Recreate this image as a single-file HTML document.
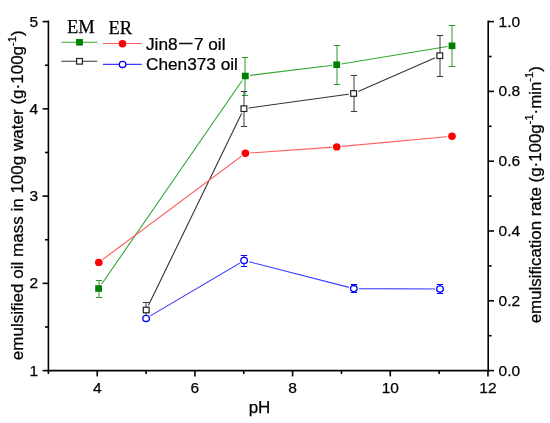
<!DOCTYPE html>
<html><head><meta charset="utf-8"><title>chart</title>
<style>html,body{margin:0;padding:0;background:#fff;}svg{display:block;}text{stroke:#000;stroke-width:0.25px;}</style>
</head><body>
<svg width="550" height="423" viewBox="0 0 550 423">
<rect width="550" height="423" fill="#fff"/>
<g stroke="#000" stroke-width="1.6" fill="none" stroke-linecap="butt">
<line x1="48.4" y1="20.4" x2="48.4" y2="371.40000000000003"/>
<line x1="488.2" y1="20.4" x2="488.2" y2="371.40000000000003"/>
<line x1="47.6" y1="370.6" x2="489.0" y2="370.6"/>
<line x1="42.6" y1="370.60" x2="48.4" y2="370.60"/>
<line x1="42.6" y1="283.35" x2="48.4" y2="283.35"/>
<line x1="42.6" y1="196.10" x2="48.4" y2="196.10"/>
<line x1="42.6" y1="108.85" x2="48.4" y2="108.85"/>
<line x1="42.6" y1="21.60" x2="48.4" y2="21.60"/>
<line x1="45.0" y1="326.98" x2="48.4" y2="326.98"/>
<line x1="45.0" y1="239.73" x2="48.4" y2="239.73"/>
<line x1="45.0" y1="152.48" x2="48.4" y2="152.48"/>
<line x1="45.0" y1="65.23" x2="48.4" y2="65.23"/>
<line x1="488.2" y1="370.60" x2="494.0" y2="370.60"/>
<line x1="488.2" y1="300.80" x2="494.0" y2="300.80"/>
<line x1="488.2" y1="231.00" x2="494.0" y2="231.00"/>
<line x1="488.2" y1="161.20" x2="494.0" y2="161.20"/>
<line x1="488.2" y1="91.40" x2="494.0" y2="91.40"/>
<line x1="488.2" y1="21.60" x2="494.0" y2="21.60"/>
<line x1="488.2" y1="335.70" x2="491.59999999999997" y2="335.70"/>
<line x1="488.2" y1="265.90" x2="491.59999999999997" y2="265.90"/>
<line x1="488.2" y1="196.10" x2="491.59999999999997" y2="196.10"/>
<line x1="488.2" y1="126.30" x2="491.59999999999997" y2="126.30"/>
<line x1="488.2" y1="56.50" x2="491.59999999999997" y2="56.50"/>
<line x1="97.24" y1="370.6" x2="97.24" y2="376.40000000000003"/>
<line x1="194.92" y1="370.6" x2="194.92" y2="376.40000000000003"/>
<line x1="292.60" y1="370.6" x2="292.60" y2="376.40000000000003"/>
<line x1="390.28" y1="370.6" x2="390.28" y2="376.40000000000003"/>
<line x1="487.96" y1="370.6" x2="487.96" y2="376.40000000000003"/>
<line x1="48.40" y1="370.6" x2="48.40" y2="374.0"/>
<line x1="146.08" y1="370.6" x2="146.08" y2="374.0"/>
<line x1="243.76" y1="370.6" x2="243.76" y2="374.0"/>
<line x1="341.44" y1="370.6" x2="341.44" y2="374.0"/>
<line x1="439.12" y1="370.6" x2="439.12" y2="374.0"/>
</g>
<g font-family="Liberation Sans, Arial, sans-serif" font-size="15.5" fill="#000">
<text x="38" y="375.60" text-anchor="end">1</text>
<text x="38" y="288.35" text-anchor="end">2</text>
<text x="38" y="201.10" text-anchor="end">3</text>
<text x="38" y="113.85" text-anchor="end">4</text>
<text x="38" y="26.60" text-anchor="end">5</text>
<text x="498.6" y="375.60">0.0</text>
<text x="498.6" y="305.80">0.2</text>
<text x="498.6" y="236.00">0.4</text>
<text x="498.6" y="166.20">0.6</text>
<text x="498.6" y="96.40">0.8</text>
<text x="498.6" y="26.60">1.0</text>
<text x="97.24" y="392.6" text-anchor="middle">4</text>
<text x="194.92" y="392.6" text-anchor="middle">6</text>
<text x="292.60" y="392.6" text-anchor="middle">8</text>
<text x="390.28" y="392.6" text-anchor="middle">10</text>
<text x="487.96" y="392.6" text-anchor="middle">12</text>
</g>
<text x="259.5" y="412.8" text-anchor="middle" font-family="Liberation Sans, Arial, sans-serif" font-size="17">pH</text>
<text transform="translate(23 360.2) rotate(-90)" font-family="Liberation Sans, Arial, sans-serif" font-size="17.05">emulsified oil mass in 100g water (g·100g<tspan font-size="11" dy="-7">-1</tspan><tspan dy="7">)</tspan></text>
<text transform="translate(540.5 323.3) rotate(-90)" font-family="Liberation Sans, Arial, sans-serif" font-size="16.9">emulsification rate (g·100g<tspan font-size="11" dy="-7.5">-1</tspan><tspan dy="7.5">·min</tspan><tspan font-size="11" dy="-7.5">-1</tspan><tspan dy="7.5">)</tspan></text>
<polyline points="98.6,288.5 245.3,76 336.7,64.7 452,45.8" fill="none" stroke="#33a833" stroke-width="1.1"/>
<polyline points="146.2,310 243.9,108.7 353.6,93.5 439.8,55.7" fill="none" stroke="#333" stroke-width="1.1"/>
<polyline points="98.8,262.4 245.4,153.3 336.7,146.9 452,136.2" fill="none" stroke="#ff5c5c" stroke-width="1.1"/>
<polyline points="146.1,318.4 244.1,260.5 353.8,288.6 440,289" fill="none" stroke="#3a3aff" stroke-width="1.1"/>
<rect x="93.99999999999999" y="284.0" width="9.2" height="9.0" fill="#fff"/>
<rect x="240.70000000000002" y="71.5" width="9.2" height="9.0" fill="#fff"/>
<rect x="332.1" y="60.2" width="9.2" height="9.0" fill="#fff"/>
<rect x="447.40000000000003" y="41.3" width="9.2" height="9.0" fill="#fff"/>
<rect x="141.5" y="305.40000000000003" width="9.4" height="9.2" fill="#fff"/>
<rect x="239.20000000000002" y="104.1" width="9.4" height="9.2" fill="#fff"/>
<rect x="348.90000000000003" y="88.89999999999999" width="9.4" height="9.2" fill="#fff"/>
<rect x="435.1" y="51.1" width="9.4" height="9.2" fill="#fff"/>
<ellipse cx="98.8" cy="262.4" rx="5.0" ry="4.9" fill="#fff"/>
<ellipse cx="245.4" cy="153.3" rx="5.0" ry="4.9" fill="#fff"/>
<ellipse cx="336.7" cy="146.9" rx="5.0" ry="4.9" fill="#fff"/>
<ellipse cx="452" cy="136.2" rx="5.0" ry="4.9" fill="#fff"/>
<ellipse cx="146.1" cy="318.4" rx="5.15" ry="4.95" fill="#fff"/>
<ellipse cx="244.1" cy="260.5" rx="5.15" ry="4.95" fill="#fff"/>
<ellipse cx="353.8" cy="288.6" rx="5.15" ry="4.95" fill="#fff"/>
<ellipse cx="440" cy="289" rx="5.15" ry="4.95" fill="#fff"/>
<line x1="99" y1="280.5" x2="99" y2="297.5" stroke="#2a9a2a" stroke-width="1"/><line x1="95.8" y1="280.5" x2="102.2" y2="280.5" stroke="#2a9a2a" stroke-width="1"/><line x1="95.8" y1="297.5" x2="102.2" y2="297.5" stroke="#2a9a2a" stroke-width="1"/>
<line x1="245" y1="57.5" x2="245" y2="95.5" stroke="#2a9a2a" stroke-width="1"/><line x1="241.8" y1="57.5" x2="248.2" y2="57.5" stroke="#2a9a2a" stroke-width="1"/><line x1="241.8" y1="95.5" x2="248.2" y2="95.5" stroke="#2a9a2a" stroke-width="1"/>
<line x1="337" y1="45.5" x2="337" y2="84.5" stroke="#2a9a2a" stroke-width="1"/><line x1="333.8" y1="45.5" x2="340.2" y2="45.5" stroke="#2a9a2a" stroke-width="1"/><line x1="333.8" y1="84.5" x2="340.2" y2="84.5" stroke="#2a9a2a" stroke-width="1"/>
<line x1="452" y1="25.5" x2="452" y2="66.5" stroke="#2a9a2a" stroke-width="1"/><line x1="448.8" y1="25.5" x2="455.2" y2="25.5" stroke="#2a9a2a" stroke-width="1"/><line x1="448.8" y1="66.5" x2="455.2" y2="66.5" stroke="#2a9a2a" stroke-width="1"/>
<line x1="146" y1="302.5" x2="146" y2="318.5" stroke="#3a3a3a" stroke-width="1"/><line x1="142.8" y1="302.5" x2="149.2" y2="302.5" stroke="#3a3a3a" stroke-width="1"/><line x1="142.8" y1="318.5" x2="149.2" y2="318.5" stroke="#3a3a3a" stroke-width="1"/>
<line x1="244" y1="91.5" x2="244" y2="126.5" stroke="#3a3a3a" stroke-width="1"/><line x1="240.8" y1="91.5" x2="247.2" y2="91.5" stroke="#3a3a3a" stroke-width="1"/><line x1="240.8" y1="126.5" x2="247.2" y2="126.5" stroke="#3a3a3a" stroke-width="1"/>
<line x1="354" y1="75.5" x2="354" y2="111.5" stroke="#3a3a3a" stroke-width="1"/><line x1="350.8" y1="75.5" x2="357.2" y2="75.5" stroke="#3a3a3a" stroke-width="1"/><line x1="350.8" y1="111.5" x2="357.2" y2="111.5" stroke="#3a3a3a" stroke-width="1"/>
<line x1="440" y1="35.5" x2="440" y2="76.5" stroke="#3a3a3a" stroke-width="1"/><line x1="436.8" y1="35.5" x2="443.2" y2="35.5" stroke="#3a3a3a" stroke-width="1"/><line x1="436.8" y1="76.5" x2="443.2" y2="76.5" stroke="#3a3a3a" stroke-width="1"/>
<line x1="244" y1="255.5" x2="244" y2="266.5" stroke="#0000ff" stroke-width="1"/><line x1="240.8" y1="255.5" x2="247.2" y2="255.5" stroke="#0000ff" stroke-width="1"/><line x1="240.8" y1="266.5" x2="247.2" y2="266.5" stroke="#0000ff" stroke-width="1"/>
<line x1="354" y1="284.5" x2="354" y2="292.5" stroke="#0000ff" stroke-width="1"/><line x1="350.8" y1="284.5" x2="357.2" y2="284.5" stroke="#0000ff" stroke-width="1"/><line x1="350.8" y1="292.5" x2="357.2" y2="292.5" stroke="#0000ff" stroke-width="1"/>
<line x1="440" y1="284.5" x2="440" y2="293.5" stroke="#0000ff" stroke-width="1"/><line x1="436.8" y1="284.5" x2="443.2" y2="284.5" stroke="#0000ff" stroke-width="1"/><line x1="436.8" y1="293.5" x2="443.2" y2="293.5" stroke="#0000ff" stroke-width="1"/>
<rect x="95.19999999999999" y="285.2" width="6.8" height="6.6" fill="#008000"/>
<rect x="241.9" y="72.7" width="6.8" height="6.6" fill="#008000"/>
<rect x="333.3" y="61.400000000000006" width="6.8" height="6.6" fill="#008000"/>
<rect x="448.6" y="42.5" width="6.8" height="6.6" fill="#008000"/>
<rect x="143.29999999999998" y="307.2" width="5.8" height="5.6" fill="#fff" stroke="#222" stroke-width="1.2"/>
<rect x="241.0" y="105.9" width="5.8" height="5.6" fill="#fff" stroke="#222" stroke-width="1.2"/>
<rect x="350.70000000000005" y="90.7" width="5.8" height="5.6" fill="#fff" stroke="#222" stroke-width="1.2"/>
<rect x="436.90000000000003" y="52.900000000000006" width="5.8" height="5.6" fill="#fff" stroke="#222" stroke-width="1.2"/>
<ellipse cx="98.8" cy="262.4" rx="3.8" ry="3.7" fill="#ff0000"/>
<ellipse cx="245.4" cy="153.3" rx="3.8" ry="3.7" fill="#ff0000"/>
<ellipse cx="336.7" cy="146.9" rx="3.8" ry="3.7" fill="#ff0000"/>
<ellipse cx="452" cy="136.2" rx="3.8" ry="3.7" fill="#ff0000"/>
<ellipse cx="146.1" cy="318.4" rx="3.3" ry="3.1" fill="#fff" stroke="#0000ff" stroke-width="1.3"/>
<ellipse cx="244.1" cy="260.5" rx="3.3" ry="3.1" fill="#fff" stroke="#0000ff" stroke-width="1.3"/>
<ellipse cx="353.8" cy="288.6" rx="3.3" ry="3.1" fill="#fff" stroke="#0000ff" stroke-width="1.3"/>
<ellipse cx="440" cy="289" rx="3.3" ry="3.1" fill="#fff" stroke="#0000ff" stroke-width="1.3"/>
<text x="67" y="32.8" font-family="Liberation Serif, Times New Roman, serif" font-size="18.5">EM</text>
<text x="108.5" y="33.8" font-family="Liberation Serif, Times New Roman, serif" font-size="18.5">ER</text>
<line x1="61.3" y1="42.3" x2="97.3" y2="42.3" stroke="#33a833" stroke-width="1.1"/>
<rect x="76.1" y="39" width="6.8" height="6.6" fill="#008000"/>
<line x1="61.3" y1="61.3" x2="97.3" y2="61.3" stroke="#333" stroke-width="1.1"/>
<rect x="76.6" y="58.5" width="5.8" height="5.6" fill="#fff" stroke="#222" stroke-width="1.2"/>
<line x1="102.9" y1="43.5" x2="141.8" y2="43.5" stroke="#ff5c5c" stroke-width="1.1"/>
<ellipse cx="122.5" cy="43.7" rx="3.8" ry="3.7" fill="#ff0000"/>
<line x1="102.9" y1="64.4" x2="141.8" y2="64.4" stroke="#3a3aff" stroke-width="1.1"/>
<ellipse cx="122.6" cy="64.4" rx="3.3" ry="3.1" fill="#fff" stroke="#0000ff" stroke-width="1.3"/>
<text transform="translate(146 49.5) scale(1.045 1)" font-family="Liberation Sans, Arial, sans-serif" font-size="16.5">Jin8<tspan font-size="12.4" dx="1.6" dy="-3.0" stroke="#000" stroke-width="0.4">—</tspan><tspan dx="1.6" dy="3.0">7 oil</tspan></text>
<text transform="translate(146 70) scale(1.045 1)" font-family="Liberation Sans, Arial, sans-serif" font-size="16.5">Chen373 oil</text>
</svg>
</body></html>
